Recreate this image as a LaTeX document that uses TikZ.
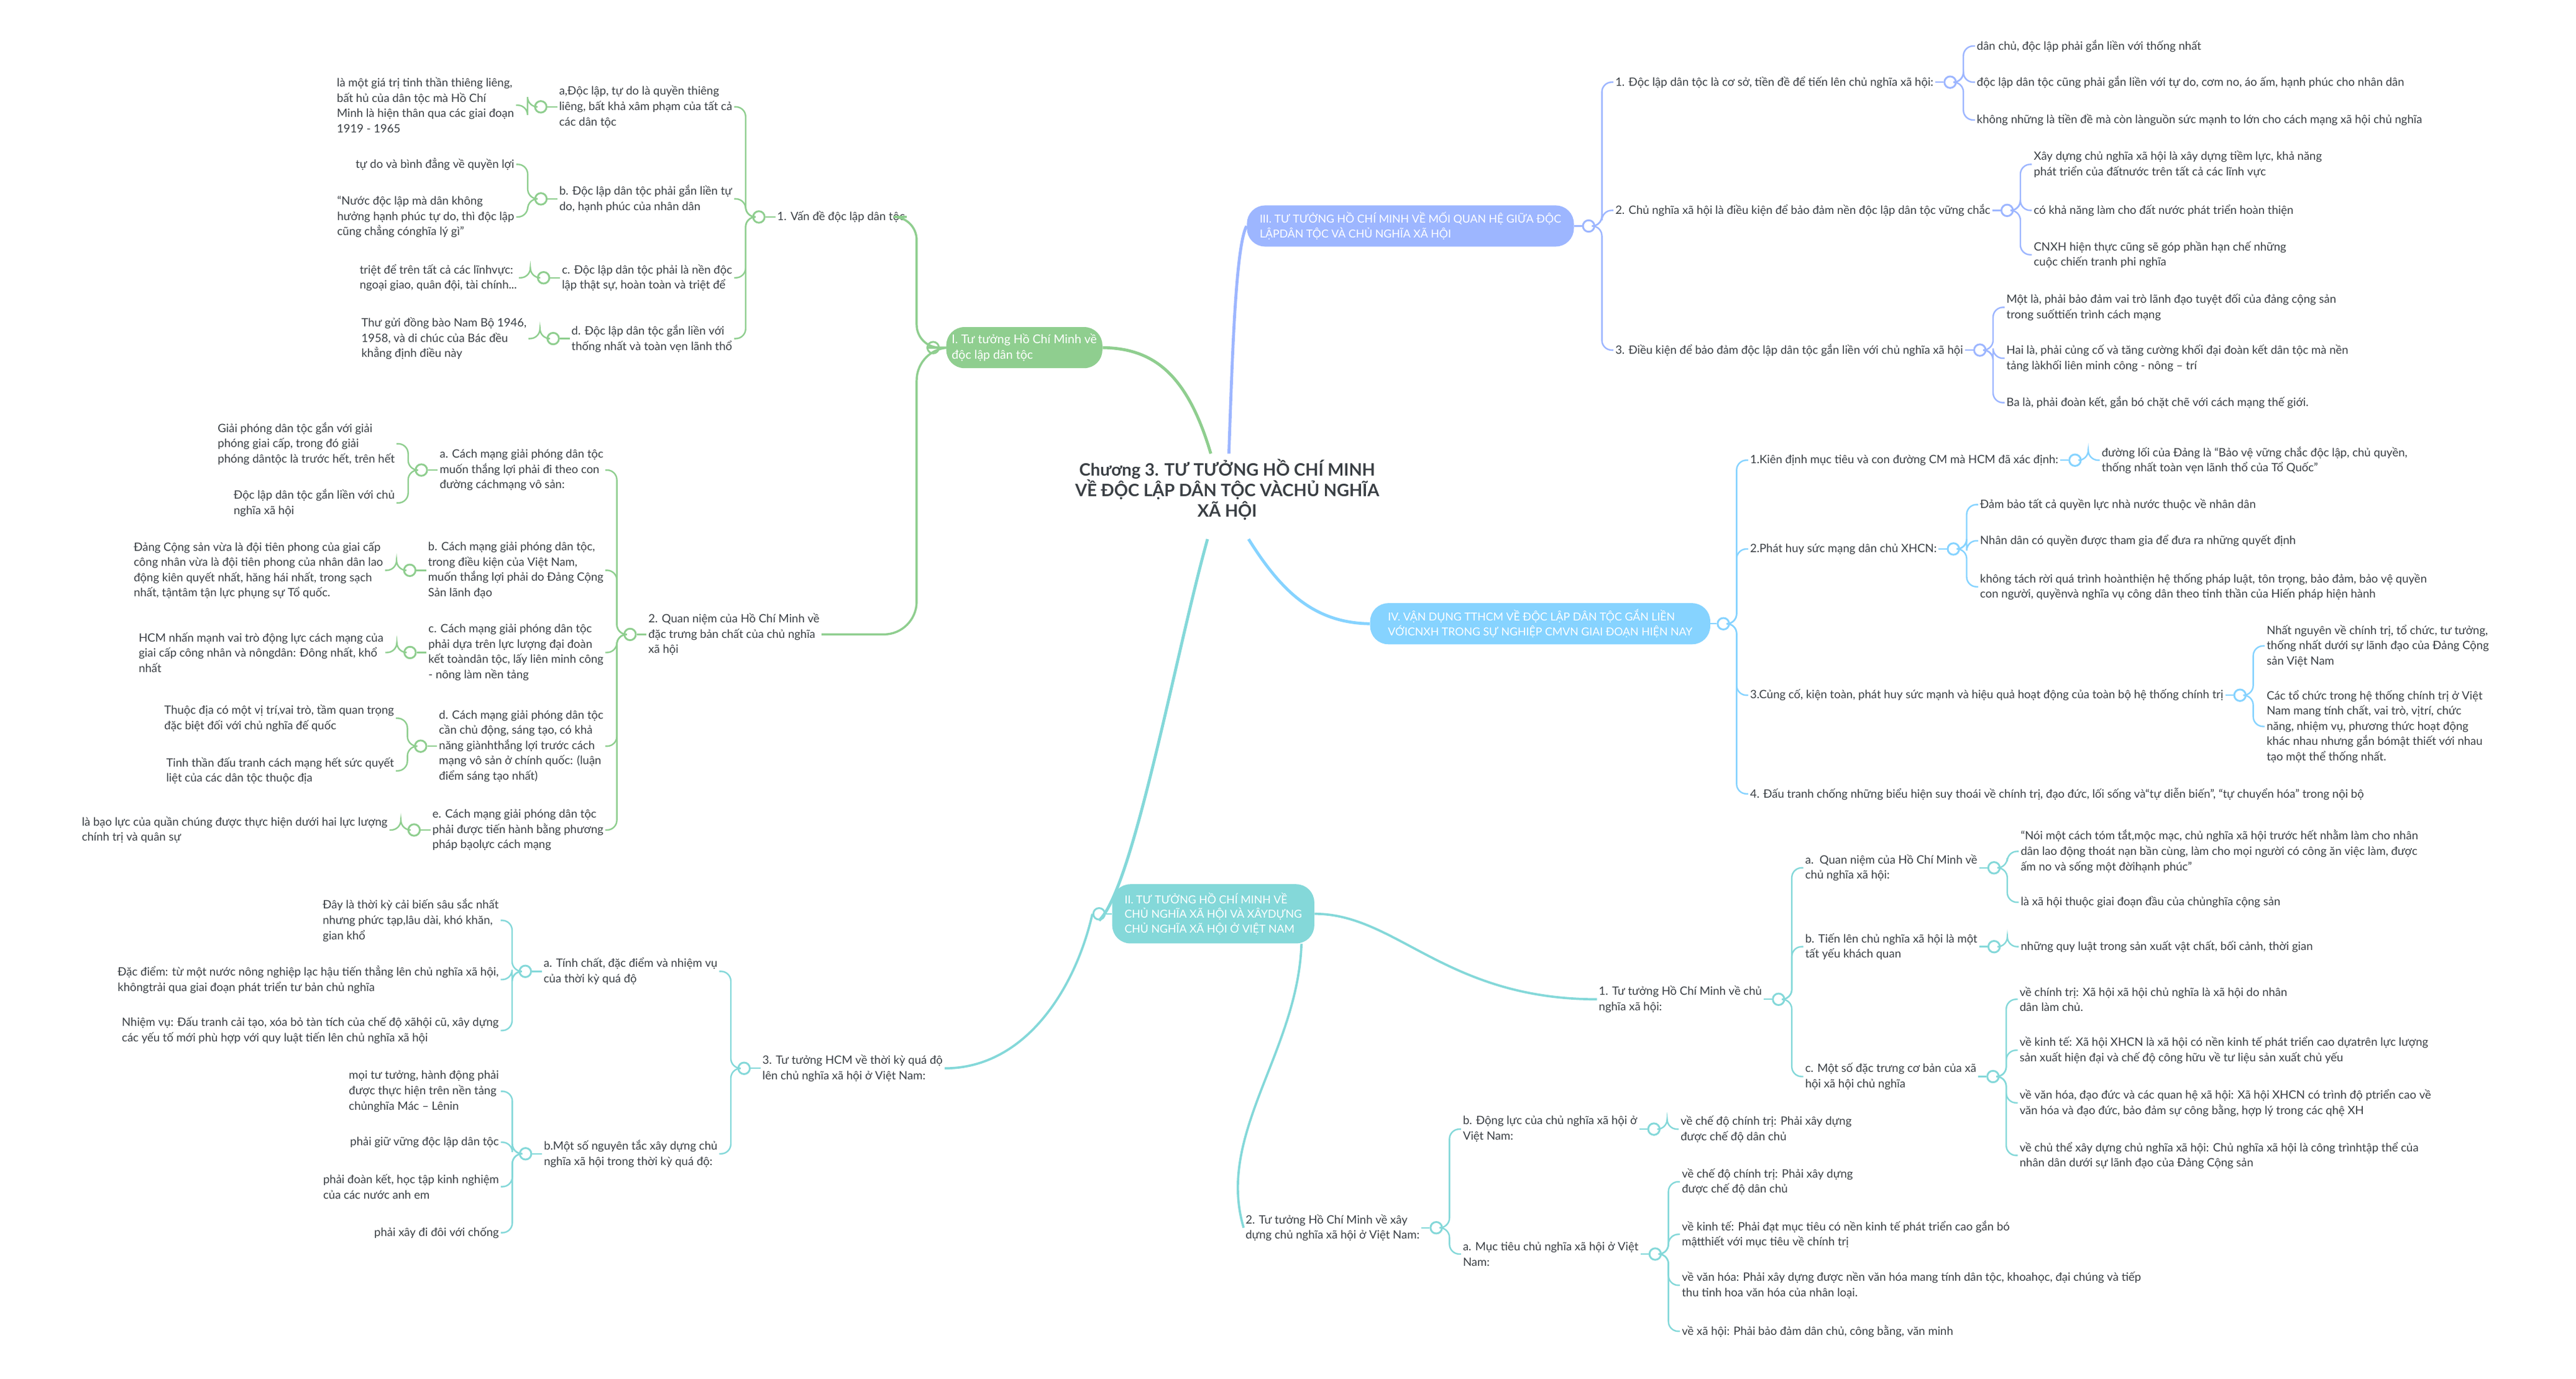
\documentclass[tikz,border=0pt]{standalone}
\usepackage{fontspec}
\setmainfont{Lato}
\usetikzlibrary{calc}
\definecolor{G}{HTML}{8FCE8F}
\definecolor{T}{HTML}{84D8D9}
\definecolor{B}{HTML}{9DB6FF}
\definecolor{L}{HTML}{86D3FF}
\definecolor{txt}{HTML}{3A3F44}
\tikzset{
 t/.style={font=\fontsize{7}{9.3}\selectfont, text=txt, align=left, inner sep=1pt},
 tr/.style={t, anchor=west}, tl/.style={t, anchor=east},
 knob/.style={circle, draw=#1, fill=white, line width=1.1pt, minimum size=7pt, inner sep=0},
 br/.style={draw=#1, line width=0.9pt, rounded corners=6pt},
 main/.style={draw=#1, line width=1.8pt},
 mbox/.style={rounded corners=11pt, fill=#1, text=white, align=left, inner sep=0, font=\fontsize{6.7}{9}\selectfont},
}
\newcommand\LC[5]{\path (#2.west) ++(-11,0) coordinate (tmp#1);
 \node[tl] (#1) at (tmp#1 |- 0,#3) {#5};
 \draw[br=#4] (#2.west) -- ++(-4,0) |- (#1.east);}
\newcommand\RC[5]{\path (#2.east) ++(11,0) coordinate (tmp#1);
 \node[tr] (#1) at (tmp#1 |- 0,#3) {#5};
 \draw[br=#4] (#2.east) -- ++(4,0) |- (#1.west);}
\newcommand\KL[3]{\node[knob=#3] (#1) at ($(#2.west)+(-10,0)$) {}; \draw[br=#3] (#2.west) -- (#1.east);}
\newcommand\KR[3]{\node[knob=#3] (#1) at ($(#2.east)+(9,0)$) {}; \draw[br=#3] (#2.east) -- (#1.west);}
\begin{document}
\begin{tikzpicture}[x=1pt,y=-1pt]
\useasboundingbox[fill=white] (0,0) rectangle (1568,839);
% title
\node[font=\fontsize{10.4}{12.6}\selectfont\bfseries, text=txt, align=center] (title) at (747,298)
 {Chương 3. TƯ TƯỞNG HỒ CHÍ MINH\\VỀ ĐỘC LẬP DÂN TỘC VÀCHỦ NGHĨA\\XÃ HỘI};
% boxes
\node[mbox=G, minimum width=95pt, minimum height=25pt, font=\fontsize{7.4}{9.6}\selectfont] (I) at (623.5,211.5) {I. Tư tưởng Hồ Chí Minh về\\độc lập dân tộc};
\node[mbox=T, minimum width=123pt, minimum height=36pt] (II) at (738.5,556) {II. TƯ TƯỞNG HỒ CHÍ MINH VỀ\\CHỦ NGHĨA XÃ HỘI VÀ XÂYDỰNG\\CHỦ NGHĨA XÃ HỘI Ở VIỆT NAM};
\node[mbox=B, minimum width=199pt, minimum height=25pt] (III) at (858.5,137.5) {III. TƯ TƯỞNG HỒ CHÍ MINH VỀ MỐI QUAN HỆ GIỮA ĐỘC\\LẬPDÂN TỘC VÀ CHỦ NGHĨA XÃ HỘI};
\node[mbox=L, minimum width=207pt, minimum height=25pt] (IV) at (937.5,379.5) {IV. VẬN DỤNG TTHCM VỀ ĐỘC LẬP DÂN TỘC GẮN LIỀN\\VỚICNXH TRONG SỰ NGHIỆP CMVN GIAI ĐOẠN HIỆN NAY};
\coordinate (tI) at (737,276); \coordinate (tIII) at (748,276);
\coordinate (tII) at (735,328); \coordinate (tIV) at (760,328);
\draw[main=G] (tI) .. controls (722,225) and (700,212) .. (I.east);
\draw[main=B] (tIII) .. controls (750,220) and (752,150) .. (III.west);
\node[knob=G] (Ik) at (568,211.5) {}; \draw[br=G] (I.west) -- (Ik.east);
\node[knob=T] (IIk) at (669,556) {}; \draw[br=T] (II.west) -- (IIk.east);
\draw[main=T] (tII) .. controls (715,400) and (690,540) .. (IIk.south);
\draw[main=L] (tIV) .. controls (780,360) and (800,379) .. (IV.west);
\node[knob=B] (IIIk) at (967,137.5) {}; \draw[br=B] (III.east) -- (IIIk.west);
\node[knob=L] (IVk) at (1049,379.5) {}; \draw[br=L] (IV.east) -- (IVk.west);

% ===== Branch I =====
\node[tl] (I1) at (552,132) {1. Vấn đề độc lập dân tộc};
\node[tl] (I2) at (500,386) {2. Quan niệm của Hồ Chí Minh về\\đặc trưng bản chất của chủ nghĩa\\xã hội};
\draw[br=G, line width=1.3pt, rounded corners=14pt] (Ik.west) -- ++(-6,0) |- (I1.east);
\draw[br=G, line width=1.3pt, rounded corners=20pt] (Ik.west) -- ++(-6,0) |- (I2.east);
\KL{I1k}{I1}{G}
\LC{I1a}{I1k}{65}{G}{a,Độc lập, tự do là quyền thiêng\\liêng, bất khả xâm phạm của tất cả\\các dân tộc}
\LC{I1b}{I1k}{121}{G}{b. Độc lập dân tộc phải gắn liền tự\\do, hạnh phúc của nhân dân}
\LC{I1c}{I1k}{169}{G}{c. Độc lập dân tộc phải là nền độc\\lập thật sự, hoàn toàn và triệt để}
\LC{I1d}{I1k}{206}{G}{d. Độc lập dân tộc gắn liền với\\thống nhất và toàn vẹn lãnh thổ}
\KL{I1ak}{I1a}{G}
\LC{I1a1}{I1ak}{64}{G}{là một giá trị tinh thần thiêng liêng,\\bất hủ của dân tộc mà Hồ Chí\\Minh là hiện thân qua các giai đoạn\\1919 - 1965}
\KL{I1bk}{I1b}{G}
\LC{I1b1}{I1bk}{100}{G}{tự do và bình đẳng về quyền lợi}
\LC{I1b2}{I1bk}{132}{G}{“Nước độc lập mà dân không\\hưởng hạnh phúc tự do, thì độc lập\\cũng chẳng cónghĩa lý gì”}
\KL{I1ck}{I1c}{G}
\LC{I1c1}{I1ck}{169}{G}{triệt để trên tất cả các lĩnhvực:\\ngoại giao, quân đội, tài chính...}
\KL{I1dk}{I1d}{G}
\LC{I1d1}{I1dk}{206}{G}{Thư gửi đồng bào Nam Bộ 1946,\\1958, và di chúc của Bác đều\\khẳng định điều này}

\KL{I2k}{I2}{G}
\LC{I2a}{I2k}{286}{G}{a. Cách mạng giải phóng dân tộc\\muốn thắng lợi phải đi theo con\\đường cáchmạng vô sản:}
\LC{I2b}{I2k}{347}{G}{b. Cách mạng giải phóng dân tộc,\\trong điều kiện của Việt Nam,\\muốn thắng lợi phải do Đảng Cộng\\Sản lãnh đạo}
\LC{I2c}{I2k}{397}{G}{c. Cách mạng giải phóng dân tộc\\phải dựa trên lực lượng đại đoàn\\kết toàndân tộc, lấy liên minh công\\- nông làm nền tảng}
\LC{I2d}{I2k}{454}{G}{d. Cách mạng giải phóng dân tộc\\cần chủ động, sáng tạo, có khả\\năng giànhthắng lợi trước cách\\mạng vô sản ở chính quốc: (luận\\điểm sáng tạo nhất)}
\LC{I2e}{I2k}{505}{G}{e. Cách mạng giải phóng dân tộc\\phải được tiến hành bằng phương\\pháp bạolực cách mạng}
\KL{I2ak}{I2a}{G}
\LC{I2a1}{I2ak}{270}{G}{Giải phóng dân tộc gắn với giải\\phóng giai cấp, trong đó giải\\phóng dântộc là trước hết, trên hết}
\LC{I2a2}{I2ak}{306}{G}{Độc lập dân tộc gắn liền với chủ\\nghĩa xã hội}
\KL{I2bk}{I2b}{G}
\LC{I2b1}{I2bk}{347}{G}{Đảng Cộng sản vừa là đội tiên phong của giai cấp\\công nhân vừa là đội tiên phong của nhân dân lao\\động kiên quyết nhất, hăng hái nhất, trong sạch\\nhất, tậntâm tận lực phụng sự Tổ quốc.}
\KL{I2ck}{I2c}{G}
\LC{I2c1}{I2ck}{397}{G}{HCM nhấn mạnh vai trò động lực cách mạng của\\giai cấp công nhân và nôngdân: Đông nhất, khổ\\nhất}
\KL{I2dk}{I2d}{G}
\LC{I2d1}{I2dk}{437}{G}{Thuộc địa có một vị trí,vai trò, tầm quan trọng\\đặc biệt đối với chủ nghĩa đế quốc}
\LC{I2d2}{I2dk}{469}{G}{Tinh thần đấu tranh cách mạng hết sức quyết\\liệt của các dân tộc thuộc địa}
\KL{I2ek}{I2e}{G}
\LC{I2e1}{I2ek}{505}{G}{là bạo lực của quần chúng được thực hiện dưới hai lực lượng\\chính trị và quân sự}

% ===== Branch II =====
\node[tl] (II3) at (575,650) {3. Tư tưởng HCM về thời kỳ quá độ\\lên chủ nghĩa xã hội ở Việt Nam:};
\draw[main=T, line width=1.4pt] (IIk.west) .. controls (655,600) and (625,650) .. (II3.east);
\KL{II3k}{II3}{T}
\LC{II3a}{II3k}{591}{T}{a. Tính chất, đặc điểm và nhiệm vụ\\của thời kỳ quá độ}
\LC{II3b}{II3k}{702}{T}{b.Một số nguyên tắc xây dựng chủ\\nghĩa xã hội trong thời kỳ quá độ:}
\KL{II3ak}{II3a}{T}
\LC{II3a1}{II3ak}{560}{T}{Đây là thời kỳ cải biến sâu sắc nhất\\nhưng phức tạp,lâu dài, khó khăn,\\gian khổ}
\LC{II3a2}{II3ak}{596}{T}{Đặc điểm: từ một nước nông nghiệp lạc hậu tiến thẳng lên chủ nghĩa xã hội,\\khôngtrải qua giai đoạn phát triển tư bản chủ nghĩa}
\LC{II3a3}{II3ak}{627}{T}{Nhiệm vụ: Đấu tranh cải tạo, xóa bỏ tàn tích của chế độ xãhội cũ, xây dựng\\các yếu tố mới phù hợp với quy luật tiến lên chủ nghĩa xã hội}
\KL{II3bk}{II3b}{T}
\LC{II3b1}{II3bk}{664}{T}{mọi tư tưởng, hành động phải\\được thực hiện trên nền tảng\\chủnghĩa Mác – Lênin}
\LC{II3b2}{II3bk}{695}{T}{phải giữ vững độc lập dân tộc}
\LC{II3b3}{II3bk}{722}{T}{phải đoàn kết, học tập kinh nghiệm\\của các nước anh em}
\LC{II3b4}{II3bk}{750}{T}{phải xây đi đôi với chống}

\node[tr] (II1) at (972,608) {1. Tư tưởng Hồ Chí Minh về chủ\\nghĩa xã hội:};
\draw[main=T, line width=1.4pt] (II.east) .. controls (850,556) and (880,608) .. (II1.west);
\node[tr] (II2) at (757,747) {2. Tư tưởng Hồ Chí Minh về xây\\dựng chủ nghĩa xã hội ở Việt Nam:};
\draw[main=T, line width=1.4pt] ($(II.south east)+(-8,0)$) .. controls (790,640) and (740,690) .. (II2.west);
\KR{II1k}{II1}{T}
\RC{II1a}{II1k}{528}{T}{a.\ \ Quan niệm của Hồ Chí Minh về\\chủ nghĩa xã hội:}
\RC{II1b}{II1k}{576}{T}{b. Tiến lên chủ nghĩa xã hội là một\\tất yếu khách quan}
\RC{II1c}{II1k}{655}{T}{c. Một số đặc trưng cơ bản của xã\\hội xã hội chủ nghĩa}
\KR{II1ak}{II1a}{T}
\RC{II1a1}{II1ak}{518}{T}{“Nói một cách tóm tắt,mộc mạc, chủ nghĩa xã hội trước hết nhằm làm cho nhân\\dân lao động thoát nạn bần cùng, làm cho mọi người có công ăn việc làm, được\\ấm no và sống một đờihạnh phúc”}
\RC{II1a2}{II1ak}{549}{T}{là xã hội thuộc giai đoạn đầu của chủnghĩa cộng sản}
\KR{II1bk}{II1b}{T}
\RC{II1b1}{II1bk}{576}{T}{những quy luật trong sản xuất vật chất, bối cảnh, thời gian}
\KR{II1ck}{II1c}{T}
\RC{II1c1}{II1ck}{608}{T}{về chính trị: Xã hội xã hội chủ nghĩa là xã hội do nhân\\dân làm chủ.}
\RC{II1c2}{II1ck}{639}{T}{về kinh tế: Xã hội XHCN là xã hội có nền kinh tế phát triển cao dựatrên lực lượng\\sản xuất hiện đại và chế độ công hữu về tư liệu sản xuất chủ yếu}
\RC{II1c3}{II1ck}{671}{T}{về văn hóa, đạo đức và các quan hệ xã hội: Xã hội XHCN có trình độ ptriển cao về\\văn hóa và đạo đức, bảo đảm sự công bằng, hợp lý trong các qhệ XH}
\RC{II1c4}{II1ck}{703}{T}{về chủ thể xây dựng chủ nghĩa xã hội: Chủ nghĩa xã hội là công trìnhtập thể của\\nhân dân dưới sự lãnh đạo của Đảng Cộng sản}

\KR{II2k}{II2}{T}
\RC{II2b}{II2k}{687}{T}{b. Động lực của chủ nghĩa xã hội ở\\Việt Nam:}
\RC{II2a}{II2k}{763}{T}{a. Mục tiêu chủ nghĩa xã hội ở Việt\\Nam:}
\KR{II2bk}{II2b}{T}
\RC{II2b1}{II2bk}{687}{T}{về chế độ chính trị: Phải xây dựng\\được chế độ dân chủ}
\KR{II2ak}{II2a}{T}
\RC{II2a1}{II2ak}{719}{T}{về chế độ chính trị: Phải xây dựng\\được chế độ dân chủ}
\RC{II2a2}{II2ak}{751}{T}{về kinh tế: Phải đạt mục tiêu có nền kinh tế phát triển cao gắn bó\\mậtthiết với mục tiêu về chính trị}
\RC{II2a3}{II2ak}{782}{T}{về văn hóa: Phải xây dựng được nền văn hóa mang tính dân tộc, khoahọc, đại chúng và tiếp\\thu tinh hoa văn hóa của nhân loại.}
\RC{II2a4}{II2ak}{810}{T}{về xã hội: Phải bảo đảm dân chủ, công bằng, văn minh}

% ===== Branch III =====
\RC{B1}{IIIk}{50}{B}{1. Độc lập dân tộc là cơ sở, tiền đề để tiến lên chủ nghĩa xã hội:}
\RC{B2}{IIIk}{128}{B}{2. Chủ nghĩa xã hội là điều kiện để bảo đảm nền độc lập dân tộc vững chắc}
\RC{B3}{IIIk}{213}{B}{3. Điều kiện để bảo đảm độc lập dân tộc gắn liền với chủ nghĩa xã hội}
\KR{B1k}{B1}{B}
\RC{B1a}{B1k}{28}{B}{dân chủ, độc lập phải gắn liền với thống nhất}
\RC{B1b}{B1k}{50}{B}{độc lập dân tộc cũng phải gắn liền với tự do, cơm no, áo ấm, hạnh phúc cho nhân dân}
\RC{B1c}{B1k}{73}{B}{không những là tiền đề mà còn lànguồn sức mạnh to lớn cho cách mạng xã hội chủ nghĩa}
\KR{B2k}{B2}{B}
\RC{B2a}{B2k}{100}{B}{Xây dựng chủ nghĩa xã hội là xây dựng tiềm lực, khả năng\\phát triển của đấtnước trên tất cả các lĩnh vực}
\RC{B2b}{B2k}{128}{B}{có khả năng làm cho đất nước phát triển hoàn thiện}
\RC{B2c}{B2k}{155}{B}{CNXH hiện thực cũng sẽ góp phần hạn chế những\\cuộc chiến tranh phi nghĩa}
\KR{B3k}{B3}{B}
\RC{B3a}{B3k}{187}{B}{Một là, phải bảo đảm vai trò lãnh đạo tuyệt đối của đảng cộng sản\\trong suốttiến trình cách mạng}
\RC{B3b}{B3k}{218}{B}{Hai là, phải củng cố và tăng cường khối đại đoàn kết dân tộc mà nền\\tảng làkhối liên minh công - nông – trí}
\RC{B3c}{B3k}{245}{B}{Ba là, phải đoàn kết, gắn bó chặt chẽ với cách mạng thế giới.}

% ===== Branch IV =====
\RC{V1}{IVk}{280}{L}{1.Kiên định mục tiêu và con đường CM mà HCM đã xác định:}
\RC{V2}{IVk}{334}{L}{2.Phát huy sức mạng dân chủ XHCN:}
\RC{V3}{IVk}{423}{L}{3.Củng cố, kiện toàn, phát huy sức mạnh và hiệu quả hoạt động của toàn bộ hệ thống chính trị}
\RC{V4}{IVk}{483}{L}{4. Đấu tranh chống những biểu hiện suy thoái về chính trị, đạo đức, lối sống và“tự diễn biến”, “tự chuyển hóa” trong nội bộ}
\KR{V1k}{V1}{L}
\RC{V1a}{V1k}{280}{L}{đường lối của Đảng là “Bảo vệ vững chắc độc lập, chủ quyền,\\thống nhất toàn vẹn lãnh thổ của Tổ Quốc”}
\KR{V2k}{V2}{L}
\RC{V2a}{V2k}{307}{L}{Đảm bảo tất cả quyền lực nhà nước thuộc về nhân dân}
\RC{V2b}{V2k}{329}{L}{Nhân dân có quyền được tham gia để đưa ra những quyết định}
\RC{V2c}{V2k}{357}{L}{không tách rời quá trình hoànthiện hệ thống pháp luật, tôn trọng, bảo đảm, bảo vệ quyền\\con người, quyềnvà nghĩa vụ công dân theo tinh thần của Hiến pháp hiện hành}
\KR{V3k}{V3}{L}
\RC{V3a}{V3k}{393}{L}{Nhất nguyên về chính trị, tổ chức, tư tưởng,\\thống nhất dưới sự lãnh đạo của Đảng Cộng\\sản Việt Nam}
\RC{V3b}{V3k}{442}{L}{Các tổ chức trong hệ thống chính trị ở Việt\\Nam mang tính chất, vai trò, vịtrí, chức\\năng, nhiệm vụ, phương thức hoạt động\\khác nhau nhưng gắn bómật thiết với nhau\\tạo một thể thống nhất.}
\end{tikzpicture}
\end{document}
